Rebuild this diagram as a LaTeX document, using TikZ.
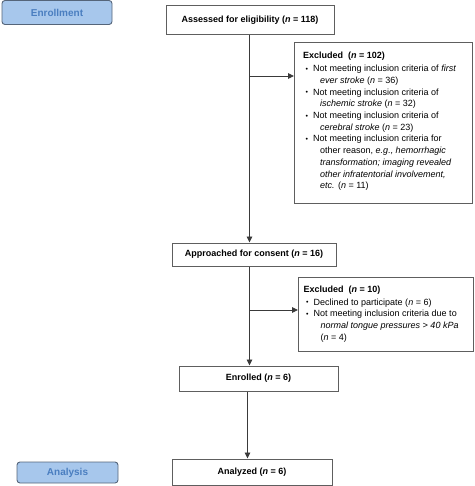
\documentclass[tikz,border=0pt]{standalone}
\usepackage{fontspec}
\setmainfont{Liberation Sans}
\usetikzlibrary{arrows.meta,calc}
\definecolor{phasefill}{HTML}{A7C7EC}
\definecolor{phasedraw}{HTML}{55657A}
\definecolor{phasetext}{HTML}{4A7EC0}
\definecolor{boxdraw}{HTML}{5E5E5E}
\definecolor{linecol}{HTML}{3A3A3A}
\newcommand{\bulletmark}{\makebox[10pt][l]{\hspace{2.5pt}\raisebox{0.4pt}{\fontsize{7}{7}\selectfont\textbullet}}}
\newcommand{\contind}{\hspace*{17pt}}
\begin{document}
\begin{tikzpicture}[x=1pt,y=-1pt,
  box/.style={draw=boxdraw, line width=1pt, fill=white, inner sep=0pt, font=\fontsize{9}{11}\selectfont\bfseries},
  phase/.style={draw=phasedraw, fill=phasefill, rounded corners=3pt, line width=0.9pt, text=phasetext, font=\fontsize{10}{12}\selectfont\bfseries, inner sep=0pt},
  extext/.style={anchor=north west, inner sep=0pt, align=left, font=\fontsize{9}{11.7}\selectfont},
  conn/.style={draw=linecol, line width=0.9pt},
  arr/.style={conn, -{Triangle[width=5.5pt,length=6pt]}}]

\useasboundingbox (0,0) rectangle (474,486);

\node[phase, minimum width=110pt, minimum height=24pt] (enroll) at (57,12.5) {Enrollment};
\node[phase, minimum width=101pt, minimum height=21pt] (analysis) at (67.5,472.5) {Analysis};

\node[box, minimum width=168pt, minimum height=29pt] (assessed) at (250,20.5) {Assessed for eligibility (\textit{n} = 118)};

\node[box, minimum width=178pt, minimum height=161pt, anchor=north west] (excl1) at (294,42) {};
\node[extext] (excl1text) at ($(excl1.north west)+(9,10)$) {%
\textbf{Excluded\ \ (\textit{n} = 102)}\\[1.3pt]
\bulletmark Not meeting inclusion criteria of \textit{first}\\
\contind\textit{ever stroke} (\textit{n} = 36)\\
\bulletmark Not meeting inclusion criteria of\\
\contind\textit{ischemic stroke} (\textit{n} = 32)\\
\bulletmark Not meeting inclusion criteria of\\
\contind\textit{cerebral stroke} (\textit{n} = 23)\\
\bulletmark Not meeting inclusion criteria for\\
\contind other reason, \textit{e.g., hemorrhagic}\\
\contind\textit{transformation; imaging revealed}\\
\contind\textit{other infratentorial involvement,}\\
\contind\textit{etc.} (\textit{n} = 11)};

\node[box, minimum width=164pt, minimum height=23pt] (approached) at (254,254.5) {Approached for consent (\textit{n} = 16)};

\node[box, minimum width=175pt, minimum height=74pt, anchor=north west] (excl2) at (298,277) {};
\node[extext] (excl2text) at ($(excl2.north west)+(5.5,8.5)$) {%
\textbf{Excluded\ \ (\textit{n} = 10)}\\[1.3pt]
\bulletmark Declined to participate (\textit{n} = 6)\\
\bulletmark Not meeting inclusion criteria due to\\
\contind\textit{normal tongue pressures > 40 kPa}\\
\contind(\textit{n} = 4)};

\node[box, minimum width=159pt, minimum height=25pt] (enrolled) at (258.5,378.5) {Enrolled (\textit{n} = 6)};
\node[box, minimum width=160pt, minimum height=26pt] (analyzed) at (252,472) {Analyzed (\textit{n} = 6)};

\coordinate (b1) at (249.5,76);
\coordinate (b2) at (249.5,310);
\coordinate (b3) at (247.5,430);

\draw[arr] (assessed.south -| b1) -- (approached.north -| b1);
\draw[arr] (b1) -- (b1 -| excl1.west);
\draw[arr] (approached.south -| b2) -- (enrolled.north -| b2);
\draw[arr] (b2) -- (b2 -| excl2.west);
\draw[arr] (enrolled.south -| b3) -- (analyzed.north -| b3);
\end{tikzpicture}
\end{document}
